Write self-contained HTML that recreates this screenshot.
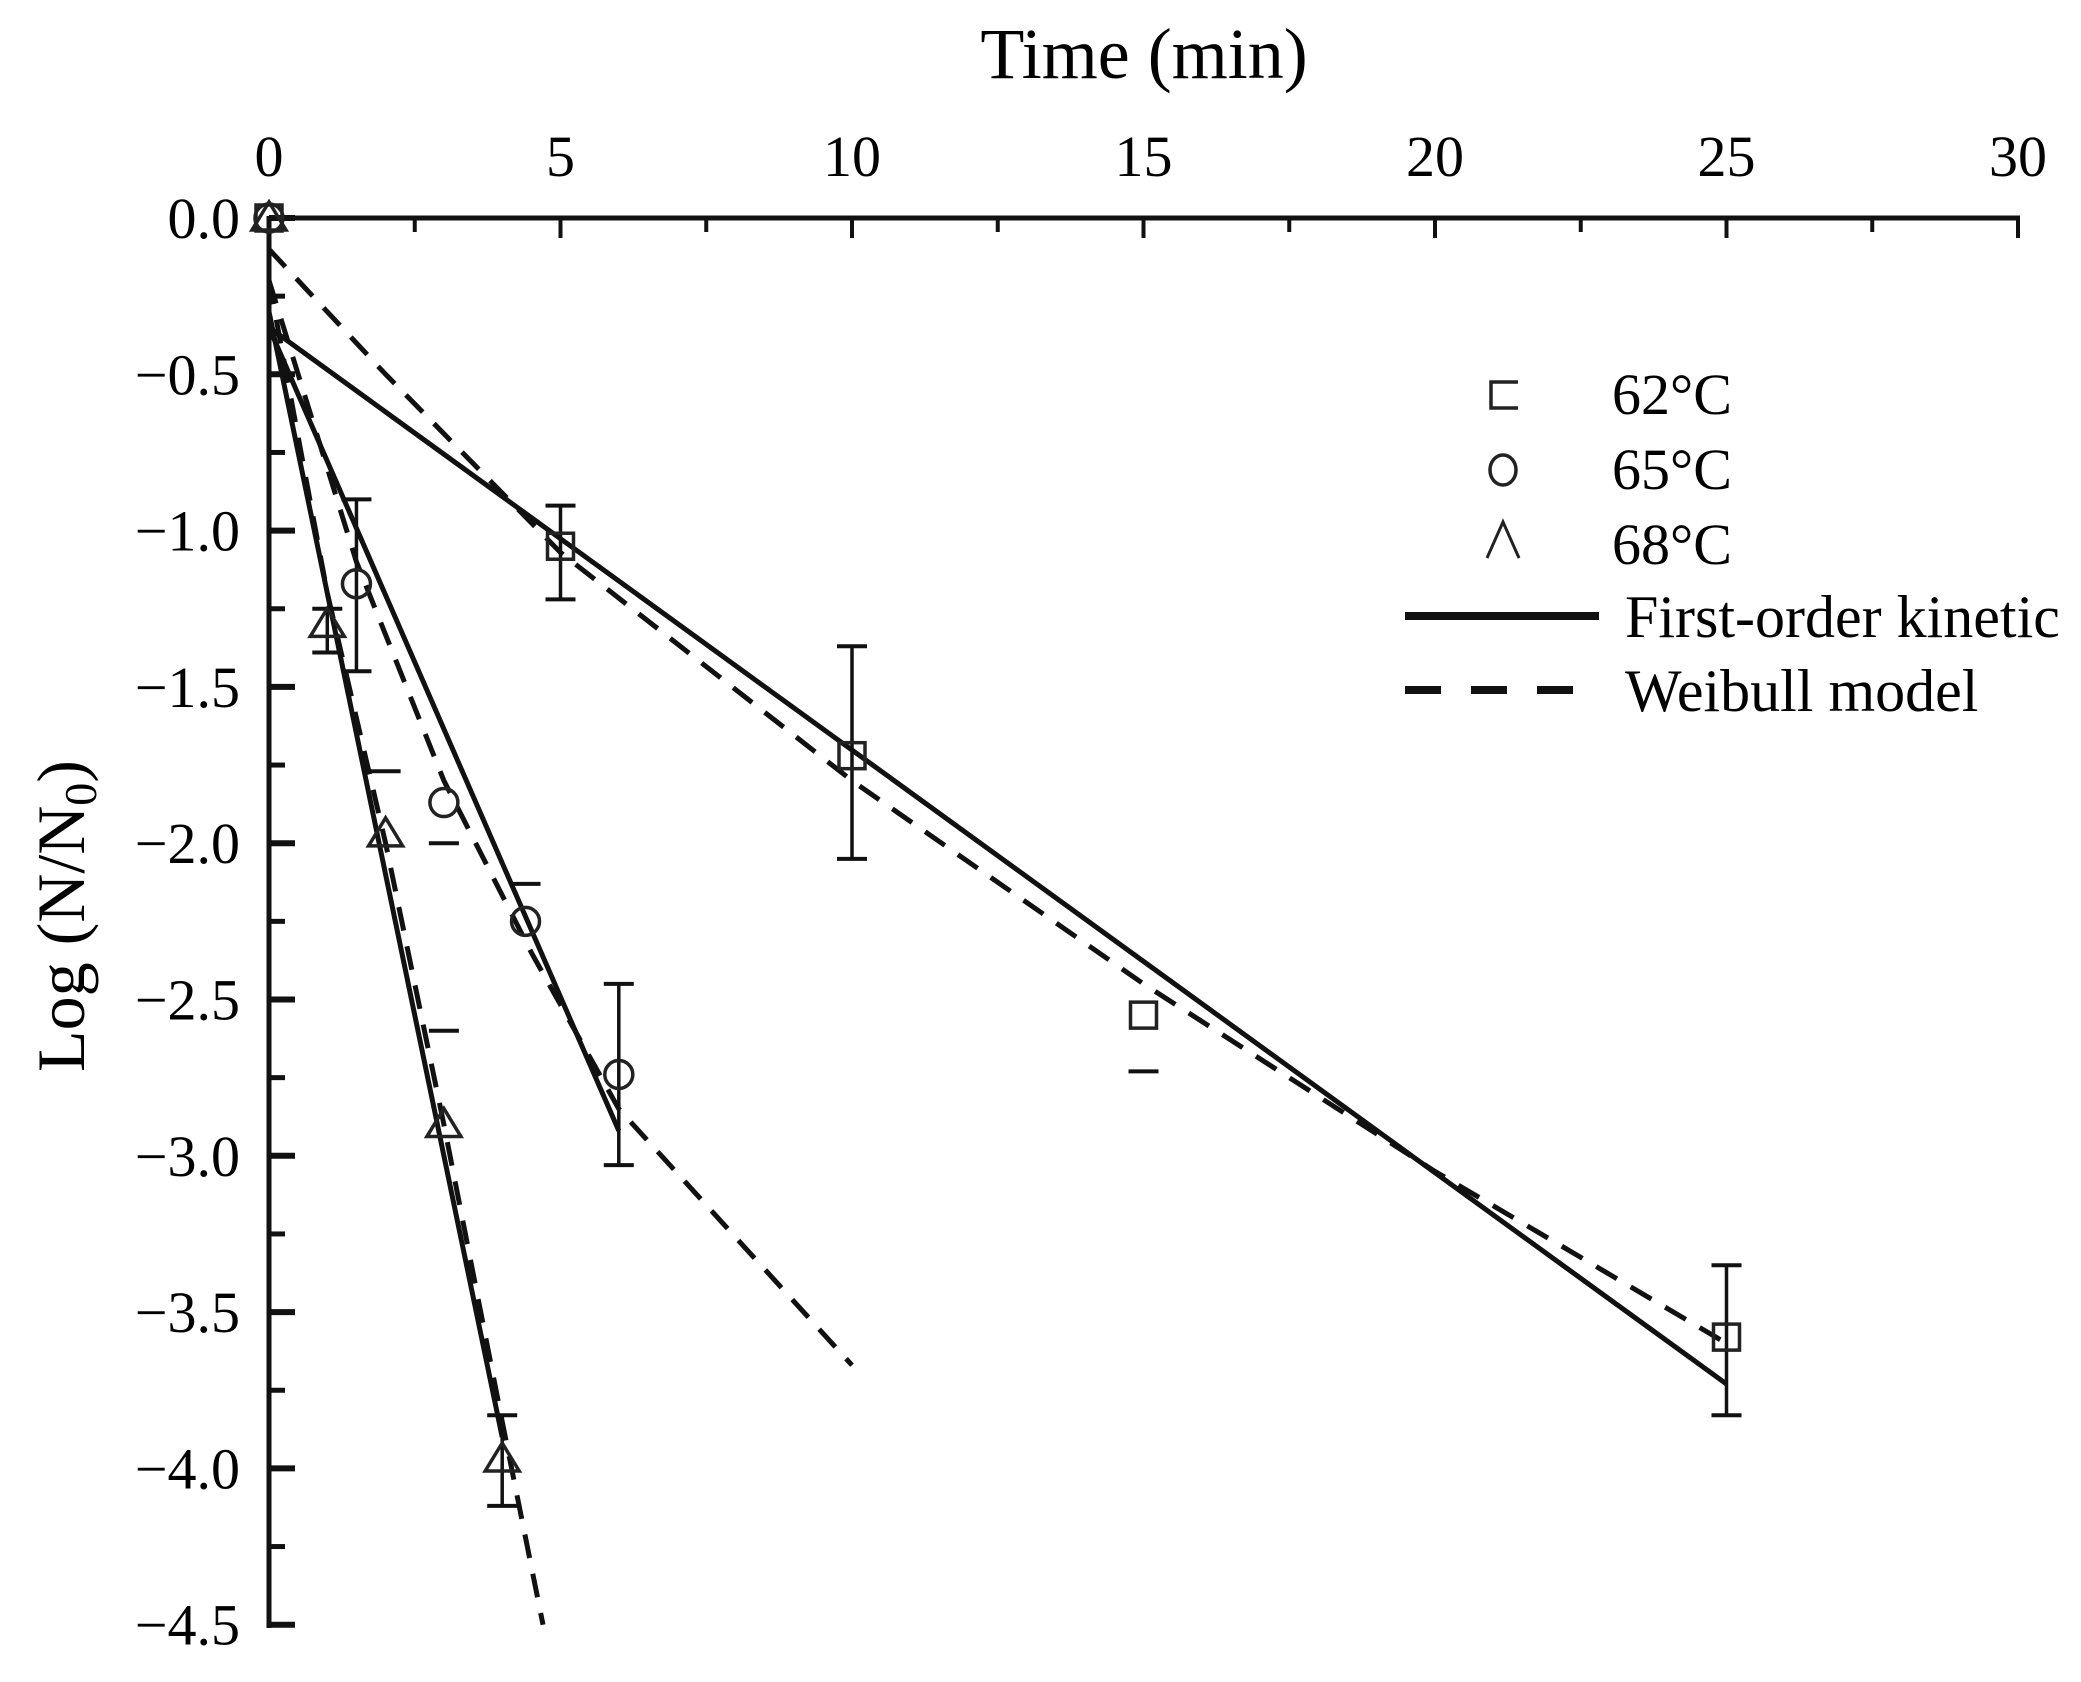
<!DOCTYPE html>
<html><head><meta charset="utf-8"><style>
html,body{margin:0;padding:0;background:#fff;}
svg{display:block;font-family:"Liberation Serif",serif;}
</style></head><body>
<svg id="s" width="2081" height="1682" viewBox="0 0 2081 1682" xmlns="http://www.w3.org/2000/svg"></svg>
<script>
const s=document.getElementById('s');
const X=t=>269+t*58.3, Y=v=>218-v*312.6;
let h='';
const L=(x1,y1,x2,y2,w,extra)=>h+=`<line x1="${x1}" y1="${y1}" x2="${x2}" y2="${y2}" stroke="#111" stroke-width="${w}" ${extra||''}/>`;
L(269,218,2020,218,5,'stroke="#444"');L(269,216,269,1628,5,'stroke="#444"');
for(let t=0;t<=30;t+=2.5){const major=t%5==0;L(X(t),218,X(t),218+(major?20:14),4);
 if(major)h+=`<text x="${X(t)}" y="176" font-size="58" text-anchor="middle">${t}</text>`;}
for(let i=0;i<=18;i++){const v=-i*0.25;const major=i%2==0;L(269,Y(v),269+(major?26:16),Y(v),major?6:5);
 if(major){let lab=(v==0?'0.0':'\u2212'+(-v).toFixed(1));h+=`<text x="240" y="${Y(v)+20}" font-size="58" text-anchor="end">${lab}</text>`;}}
h+=`<text x="1144" y="78" font-size="72" text-anchor="middle">Time (min)</text>`;
h+=`<text transform="translate(84,916) rotate(-90)" font-size="68" text-anchor="middle">Log (N/N<tspan font-size="46" dy="12">0</tspan><tspan dy="-12">)</tspan></text>`;
const P=(pts,dash)=>h+=`<polyline points="${pts.map(p=>X(p[0])+','+Y(p[1])).join(' ')}" fill="none" stroke="#111" stroke-width="5" ${dash?'stroke-dasharray="24,16"':''}/>`;
P([[0,-0.35],[25,-3.73]]);P([[0,-0.35],[6,-2.92]]);P([[0,-0.3],[4,-3.9]]);
P([[0,-0.1],[2,-0.5],[5,-1.07],[10,-1.8],[15,-2.45],[20,-3.05],[25,-3.6]],1);
P([[0,-0.2],[1.5,-1.1],[3,-1.8],[4.5,-2.35],[6,-2.85],[10,-3.67]],1);
P([[0,-0.2],[1,-1.2],[2,-2.0],[3,-2.9],[4,-3.85],[4.7,-4.5]],1);
const E=(t,a,b)=>{if(a!=null&&b!=null)L(X(t),Y(a),X(t),Y(b),3.5);[a,b].forEach(v=>{if(v!=null)L(X(t)-15,Y(v),X(t)+15,Y(v),4);});};
E(5,-0.92,-1.22);E(10,-1.37,-2.05);E(15,null,-2.73);E(25,-3.35,-3.83);
E(1.5,-0.9,-1.45);E(3,null,-2.0);E(4.4,-2.13,null);E(6,-2.45,-3.03);
E(1,-1.25,-1.39);E(2,-1.77,null);E(3,-2.6,null);E(4,-3.83,-4.12);
const sq=(t,v)=>h+=`<rect x="${X(t)-13}" y="${Y(v)-13}" width="26" height="26" fill="none" stroke="#222" stroke-width="3.5"/>`;
const ci=(t,v)=>h+=`<circle cx="${X(t)}" cy="${Y(v)}" r="14" fill="none" stroke="#222" stroke-width="3.5"/>`;
const tr=(t,v)=>h+=`<polygon points="${X(t)},${Y(v)-16} ${X(t)-17},${Y(v)+12} ${X(t)+17},${Y(v)+12}" fill="none" stroke="#222" stroke-width="3.5"/>`;
[[0,0],[5,-1.05],[10,-1.72],[15,-2.55],[25,-3.58]].forEach(p=>sq(...p));
[[0,0],[1.5,-1.17],[3,-1.87],[4.4,-2.25],[6,-2.74]].forEach(p=>ci(...p));
[[0,0],[1,-1.3],[2,-1.97],[3,-2.9],[4,-3.97]].forEach(p=>tr(...p));
// legend
h+=`<polyline points="1518,382 1491,382 1491,408 1518,408" fill="none" stroke="#222" stroke-width="3.5"/>`;
h+=`<ellipse cx="1503" cy="470" rx="13" ry="15" fill="none" stroke="#222" stroke-width="3.5"/>`;
h+=`<polyline points="1487,558 1503,522 1519,558" fill="none" stroke="#222" stroke-width="3"/>`;
h+=`<text x="1612" y="414" font-size="58">62°C</text><text x="1612" y="489" font-size="58">65°C</text><text x="1612" y="564" font-size="58">68°C</text>`;
L(1405,616,1599,616,8);L(1405,690,1599,690,8,'stroke-dasharray="36,30"');
h+=`<text x="1625" y="637" font-size="60">First-order kinetic</text><text x="1625" y="711" font-size="60">Weibull model</text>`;
s.innerHTML=h;
</script>
</body></html>
